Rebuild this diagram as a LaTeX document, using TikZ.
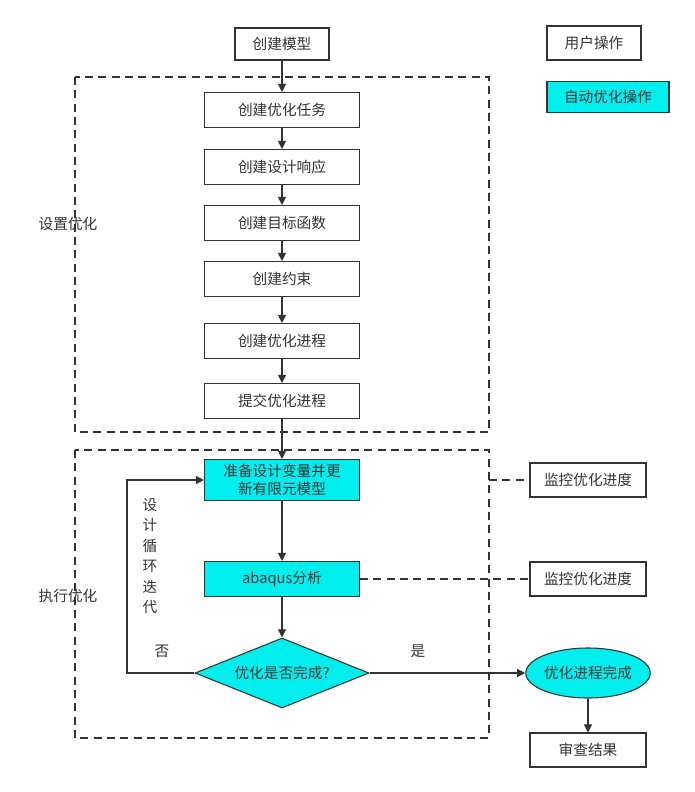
\documentclass[tikz,border=0pt]{standalone}
\usepackage{fontspec}
\setmainfont{Noto Sans CJK SC}
\usetikzlibrary{shapes.geometric,arrows.meta}
\definecolor{ln}{HTML}{333333}
\definecolor{cy}{HTML}{00EEEE}
\begin{document}
\begin{tikzpicture}[x=0.75pt,y=-0.75pt,
  every node/.style={font=\fontsize{11}{13}\selectfont,text=ln},
  box/.style={draw=ln,line width=0.8pt,minimum width=155*0.75pt,minimum height=35*0.75pt,inner sep=0pt,align=center},
  sbox/.style={draw=ln,line width=0.8pt,minimum width=116*0.75pt,minimum height=34*0.75pt,inner sep=0pt},
  arr/.style={draw=ln,line width=0.8pt,-{Triangle[length=6pt,width=6pt]}},
  dsh/.style={draw=ln,line width=0.8pt,dash pattern=on 6pt off 4pt}]
\useasboundingbox (0,0) rectangle (695,792);
\draw[dsh] (75,77) rectangle (489,432);
\draw[dsh] (75,450) rectangle (489,738);
\node[box,minimum width=94*0.75pt,minimum height=32*0.75pt] (m) at (282,44) {创建模型};
\node[sbox,minimum width=94*0.75pt] (u) at (594,43) {用户操作};
\node[sbox,fill=cy,minimum width=122*0.75pt,minimum height=31*0.75pt] (a) at (608,97) {自动优化操作};
\node[box] (b1) at (282,110) {创建优化任务};
\node[box] (b2) at (282,167) {创建设计响应};
\node[box] (b3) at (282,223) {创建目标函数};
\node[box] (b4) at (282,279) {创建约束};
\node[box] (b5) at (282,341) {创建优化进程};
\node[box] (b6) at (282,401) {提交优化进程};
\node[box,fill=cy,minimum height=41*0.75pt,font=\fontsize{11}{14}\selectfont] (p) at (282,480) {准备设计变量并更\\新有限元模型};
\node[box,fill=cy] (ab) at (282,579) {abaqus分析};
\node[diamond,draw=ln,line width=0.8pt,fill=cy,aspect=2.5,minimum width=174*0.75pt,minimum height=70*0.75pt,inner sep=0pt] (d) at (282,673) {优化是否完成?};
\node[ellipse,draw=ln,line width=0.8pt,fill=cy,minimum width=120*0.75pt,minimum height=50*0.75pt,inner sep=0pt] (e) at (588,673) {优化进程完成};
\node[sbox] (r) at (588,750) {审查结果};
\node[sbox] (k1) at (588,480) {监控优化进度};
\node[sbox] (k2) at (588,579) {监控优化进度};
\node (l1) at (68,224) {设置优化};
\node (l2) at (68,596) {执行优化};
\node[align=center,font=\fontsize{11}{15.3}\selectfont] (l3) at (150,556) {设\\计\\循\\环\\迭\\代};
\node (no) at (162,651) {否};
\node (yes) at (418,651) {是};
\coordinate (c1) at (127,673);
\coordinate (c2) at (127,480);
\coordinate (c3) at (489,480);
\draw[arr] (m) -- (b1);
\draw[arr] (b1) -- (b2);
\draw[arr] (b2) -- (b3);
\draw[arr] (b3) -- (b4);
\draw[arr] (b4) -- (b5);
\draw[arr] (b5) -- (b6);
\draw[arr] (b6) -- (p);
\draw[arr] (p) -- (ab);
\draw[arr] (ab) -- (d);
\draw[arr] (d) -- (e);
\draw[arr] (e) -- (r);
\draw[arr] (d.west) -- (c1) -- (c2) -- (p.west);
\draw[dsh] (c3) -- (k1.west);
\draw[dsh] (ab.east) -- (k2.west);
\end{tikzpicture}
\end{document}
